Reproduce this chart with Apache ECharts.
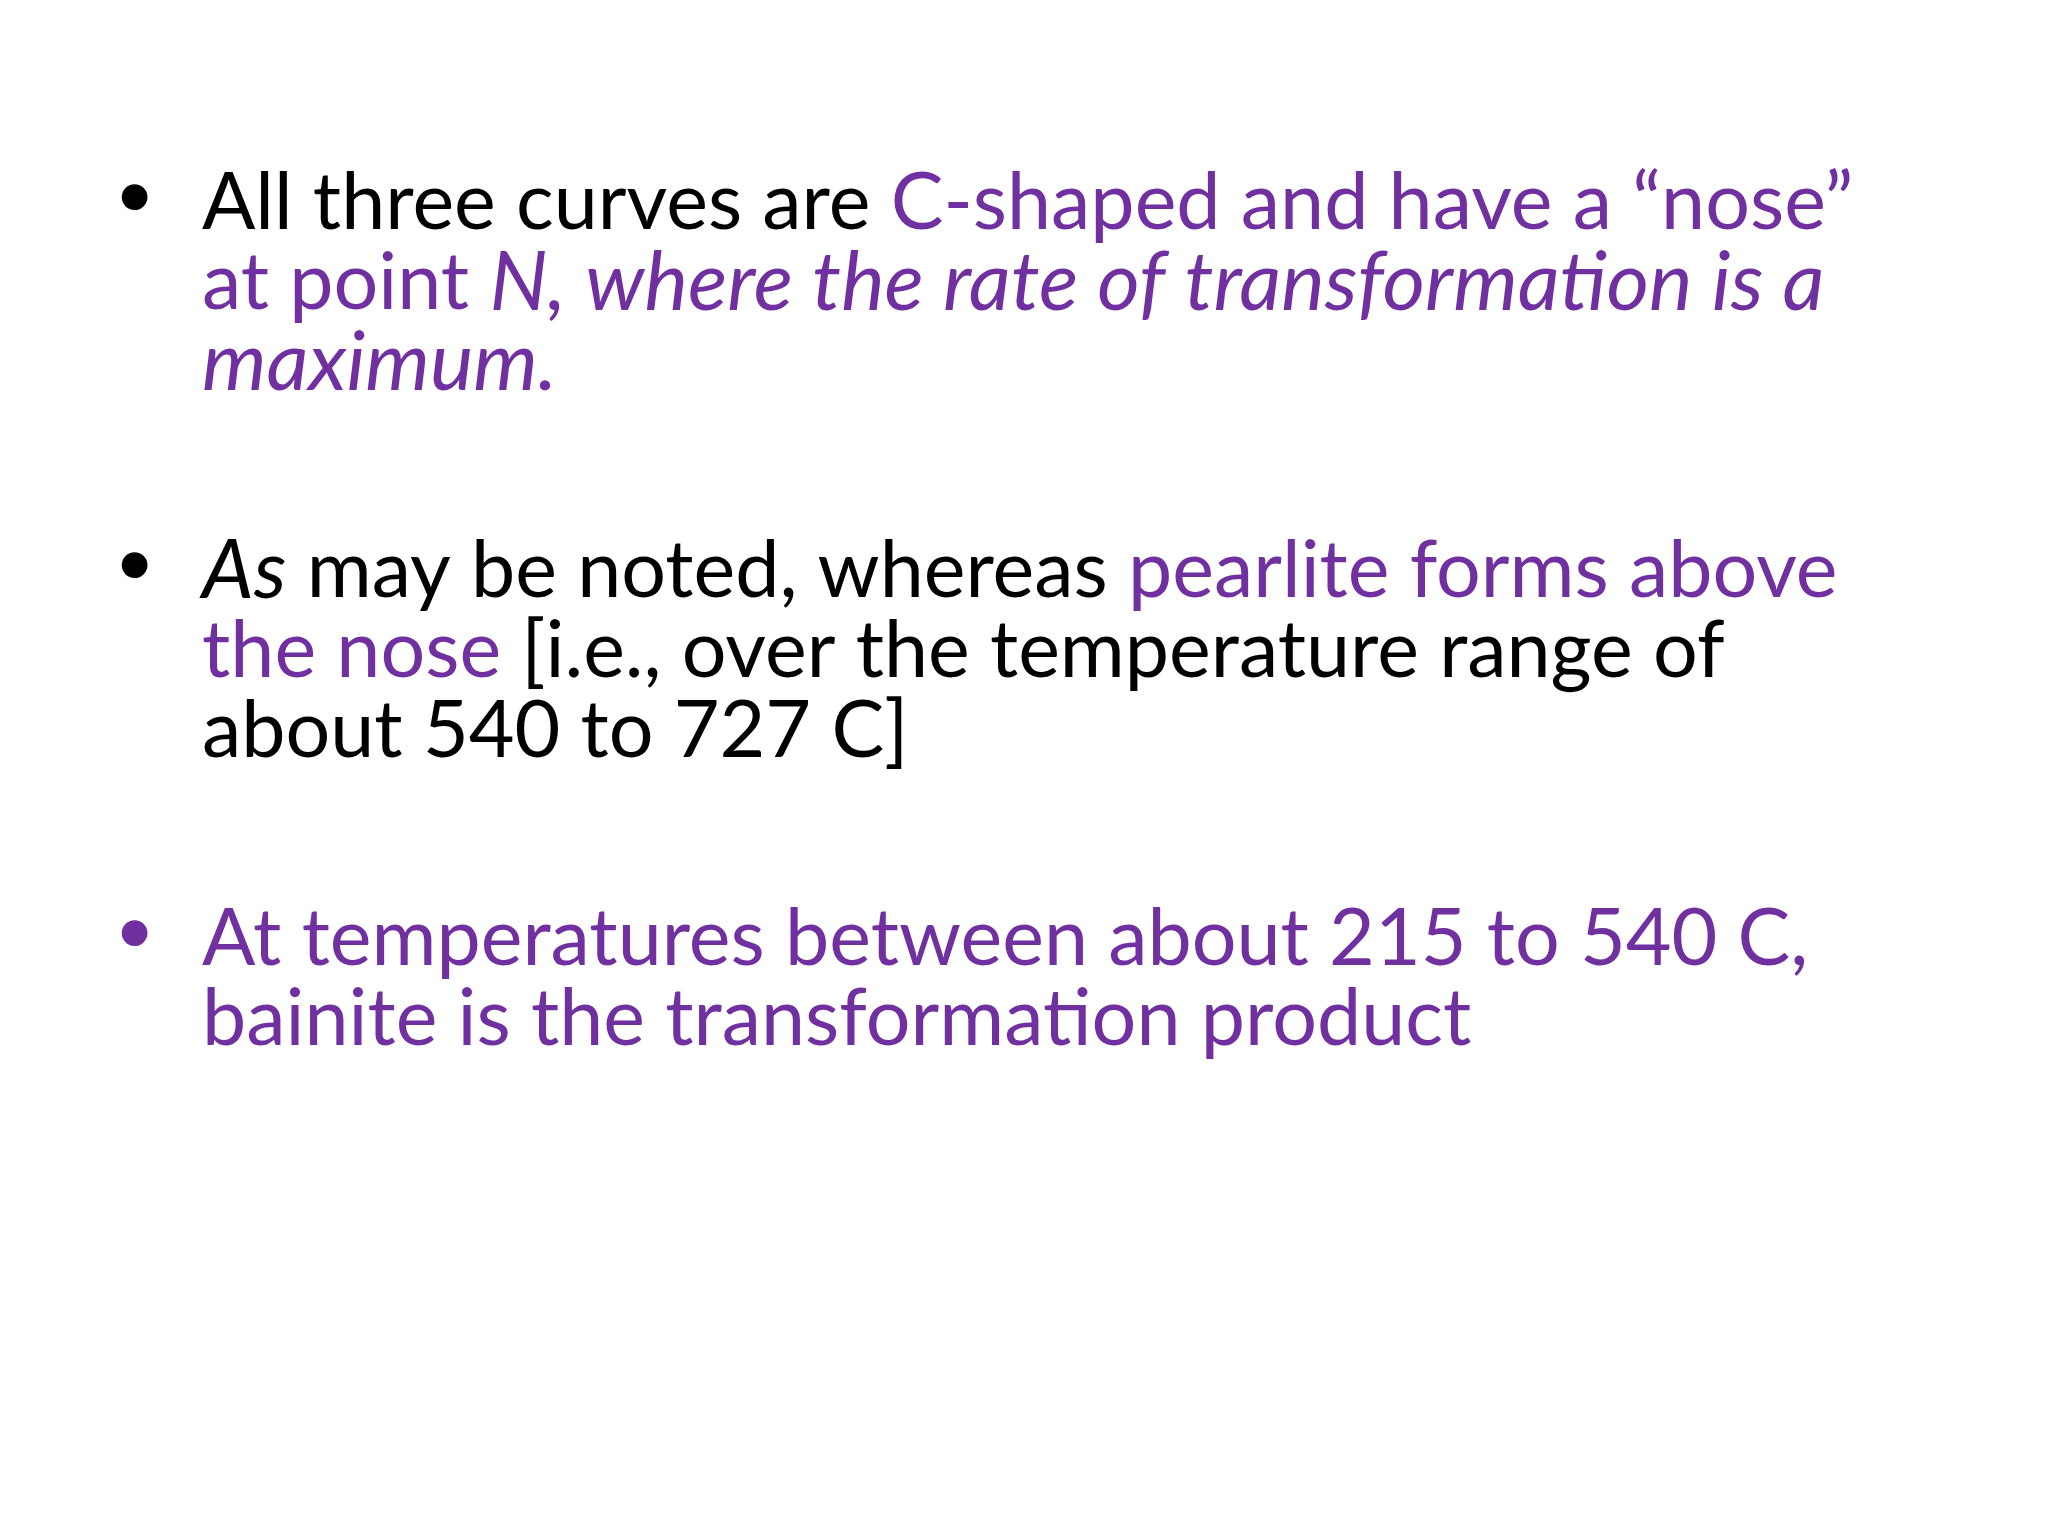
<!DOCTYPE html>
<html>
<head>
<meta charset="utf-8">
<script src="https://cdn.jsdelivr.net/npm/echarts@6/dist/echarts.min.js"></script>
<style>
html,body{margin:0;padding:0;background:#fff;}
#main{width:2048px;height:1536px;}
</style>
</head>
<body>
<div id="main"></div>
<script>
// Slide text content (style key, text)
const bullet1Lines = [
  [['k', 'All three curves are '], ['p', 'C-shaped and have a “nose”']],
  [['p', 'at point '], ['pi', 'N, where the rate of transformation is a']],
  [['pi', 'maximum.']]
];
const bullet2Lines = [
  [['ki', 'As'], ['k', ' may be noted, whereas '], ['p', 'pearlite forms above']],
  [['p', 'the nose'], ['k', ' [i.e., over the temperature range of']],
  [['k', 'about 540 to 727 C]']]
];
const bullet3Lines = [
  [['p', 'At temperatures between about 215 to 540 C,']],
  [['p', 'bainite is the transformation product']]
];
const bulletColors = ['#000000', '#000000', '#7030A0'];

const BLACK = '#000000';
const PURPLE = '#7030A0';
const FONT = 'Lato';
const FS = 79;
const FS_I = 82;
const LINE_GAP = 80;
const TEXT_X = 202;
const BULLET_X = 118;
const PARA_BASELINES = [230, 598, 966];
const MID_OFF = 26; // baseline -> middle offset

const rich = {
  k: {fill: BLACK, fontFamily: FONT, fontSize: FS, fontStyle: 'normal'},
  ki: {fill: BLACK, fontFamily: FONT, fontSize: FS_I, fontStyle: 'italic'},
  p: {fill: PURPLE, fontFamily: FONT, fontSize: FS, fontStyle: 'normal'},
  pi: {fill: PURPLE, fontFamily: FONT, fontSize: FS_I, fontStyle: 'italic'}
};

const paragraphs = [bullet1Lines, bullet2Lines, bullet3Lines];
const elements = [];
paragraphs.forEach((lines, pi) => {
  const base = PARA_BASELINES[pi];
  elements.push({
    type: 'text',
    x: BULLET_X,
    y: base - 27,
    style: {
      text: '•',
      fontFamily: 'Liberation Sans',
      fontSize: 95,
      fill: bulletColors[pi],
      verticalAlign: 'middle',
      align: 'left'
    }
  });
  lines.forEach((segs, li) => {
    elements.push({
      type: 'text',
      x: TEXT_X,
      y: base + li * LINE_GAP - MID_OFF,
      style: {
        text: segs.map(s => '{' + s[0] + '|' + s[1] + '}').join(''),
        rich: rich,
        fontFamily: FONT,
        fontSize: FS,
        verticalAlign: 'middle',
        align: 'left'
      }
    });
  });
});

const chart = echarts.init(document.getElementById('main'));
chart.setOption({
  backgroundColor: '#ffffff',
  animation: false,
  graphic: elements
});
</script>
</body>
</html>
